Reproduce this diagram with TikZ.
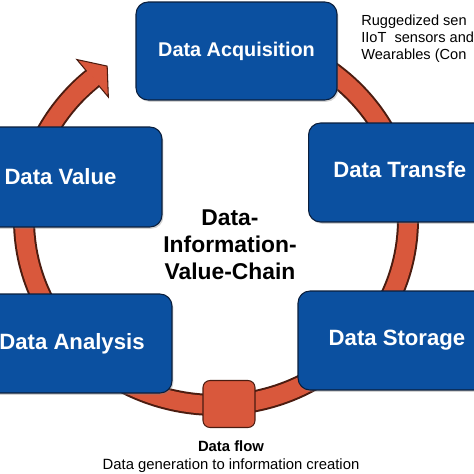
\documentclass[tikz,border=0pt]{standalone}
\usepackage{fontspec}
\setmainfont{Liberation Sans}
\usetikzlibrary{calc,shadows}
\definecolor{boxblue}{RGB}{11,80,160}
\definecolor{boxedge}{RGB}{10,30,60}
\definecolor{ringfill}{RGB}{217,88,60}
\definecolor{ringedge}{RGB}{75,28,16}
\begin{document}
\begin{tikzpicture}[x=0.02cm,y=-0.02cm,
  stage/.style={draw=boxedge, line width=0.6pt, fill=boxblue, rounded corners=0.24cm,
    text=white, font=\fontsize{12.6}{14}\selectfont\bfseries, inner sep=0pt,
    drop shadow={opacity=0.35, shadow xshift=0.8pt, shadow yshift=-1pt}},
  ringline/.style={line width=0.44cm, ringedge},
  ringcore/.style={line width=0.36cm, ringfill},
  flowbox/.style={draw=ringedge, fill=ringfill, rounded corners=0.14cm, line width=0.6pt,
    minimum width=1.04cm, minimum height=0.94cm, inner sep=0pt},
]
\useasboundingbox (0,0) rectangle (474,474);
\clip (0,0) rectangle (474,474);
\coordinate (C) at (216,220);
% ring
\draw[ringline] ($(C)+(128:3.84cm and 3.7cm)$) arc[start angle=128, end angle=460, x radius=3.84cm, y radius=3.7cm];
\draw[ringcore] ($(C)+(128:3.84cm and 3.7cm)$) arc[start angle=128, end angle=460, x radius=3.84cm, y radius=3.7cm];
% arrow head
\coordinate (h1) at ($(C)+(130:4.33cm and 4.19cm)$);
\coordinate (h2) at ($(C)+(130:3.35cm and 3.21cm)$);
\coordinate (ht) at ($(C)+(130:3.84cm and 3.7cm)+(40:0.38cm)$);
\filldraw[fill=ringfill, draw=ringedge, line width=0.6pt] (h1) -- (ht) -- (h2) -- cycle;
\draw[ringcore] ($(C)+(129.6:3.84cm and 3.7cm)$) arc[start angle=129.6, end angle=136, x radius=3.84cm, y radius=3.7cm];
% data flow square
\node[flowbox] (flow) at (229,404) {};
% stages
\node[stage, font=\fontsize{11.3}{13}\selectfont\bfseries, minimum width=4.02cm, minimum height=1.96cm] (acq) at (236.5,51) {Data Acquisition};
\node[stage, minimum width=3.96cm, minimum height=1.98cm] (tra) at (308,172.5) [anchor=west] {};
\node[anchor=west, inner sep=0pt, text=white, font=\fontsize{12.6}{14}\selectfont\bfseries] (tratext) at (333,170) {Data Transfe};
\node[stage, minimum width=4.06cm, minimum height=2.0cm] (val) at (60.5,177) {Data Value};
\node[stage, minimum width=4.0cm, minimum height=1.98cm] (ana) at (72,343.5) {Data Analysis};
\node[stage, minimum width=3.96cm, minimum height=1.98cm] (sto) at (397,340.5) {Data Storage};
% texts
\node[align=center, font=\fontsize{13}{15.4}\selectfont\bfseries] (chain) at (230,245) {Data-\\Information-\\Value-Chain};
\node[align=center, font=\fontsize{8.45}{10.2}\selectfont] (flowtext) at (231,457) {{\bfseries Data flow}\\Data generation to information creation};
\node[anchor=west, align=left, inner sep=0pt, font=\fontsize{8.3}{9.6}\selectfont] (sensors) at (361,39) {Ruggedized sen\\IIoT~ sensors and\\Wearables (Con};
\end{tikzpicture}
\end{document}
